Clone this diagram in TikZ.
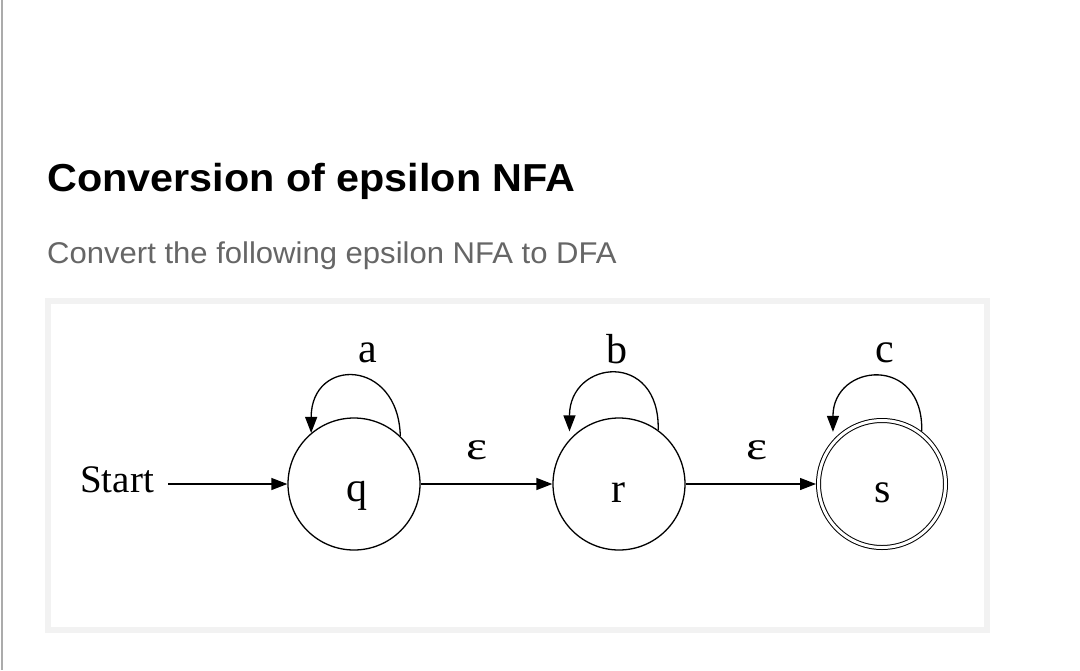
\documentclass[tikz,border=0pt]{standalone}
\usepackage{fontspec}
\usepackage{graphicx}
\newfontfamily\hdfont{Liberation Sans}
\newfontfamily\tnrfont{Liberation Serif}
\usetikzlibrary{arrows.meta,calc}
\definecolor{boxgray}{HTML}{F2F2F2}
\definecolor{subgray}{HTML}{666666}
\definecolor{edgegray}{HTML}{ABABAB}
\begin{document}
\begin{tikzpicture}[x=1pt,y=-1pt,
  state/.style={circle, draw=black, minimum size=132pt, inner sep=0pt, line width=1.3pt},
  accept/.style={circle, draw=black, minimum size=127pt, inner sep=0pt, double, double distance=3pt, line width=1pt, outer sep=2.5pt},
  lbl/.style={font=\tnrfont\fontsize{42}{42}\selectfont, anchor=base, inner sep=0pt},
  epslbl/.style={font=\tnrfont\fontsize{40}{40}\selectfont, anchor=center, inner sep=0pt},
  edge/.style={-{Triangle[length=16pt,width=12pt]}, line width=1.3pt, draw=black}]
\useasboundingbox[fill=white] (0,0) rectangle (1080,670);
\draw[edgegray, line width=2pt] (2,0) -- (2,670);
% headings
\node[anchor=base west, inner sep=0pt, font=\hdfont\bfseries\fontsize{39}{42}\selectfont] (title) at (47,191) {\scalebox{1.06}[1]{Conversion of epsilon NFA}};
\node[anchor=base west, inner sep=0pt, text=subgray, font=\hdfont\fontsize{30}{32}\selectfont] (sub) at (47,263) {\scalebox{1.035}[1]{Convert the following epsilon NFA to DFA}};
% frame
\draw[boxgray, line width=6pt, fill=white] (48,301) rectangle (987,630);
% states
\node[state] (q) at (354,484) {};
\node[state] (r) at (619,484) {};
\node[accept] (s) at (882,484) {};
\node[lbl] (ql) at (357,501) {q};
\node[lbl] (rl) at (618,502) {r};
\node[lbl] (sl) at (883,502) {s};
% start
\node[anchor=base west, inner sep=0pt, font=\tnrfont\fontsize{39}{39}\selectfont] (start) at (80,492) {Start};
\coordinate (st) at (168,484);
\draw[edge] (st) -- (q);
\draw[edge] (q) -- (r);
\draw[edge] (r) -- (s);
\node[epslbl] (e1) at (477,450) {\scalebox{1.25}[1]{ε}};
\node[epslbl] (e2) at (757,450) {\scalebox{1.25}[1]{ε}};
% loops
\draw[edge] (q.46) .. controls +(-2,-78) and +(0,-76) .. (q.130);
\draw[edge, shorten >=8pt] (r.54) .. controls +(2,-80) and +(0,-80) .. (r.138);
\draw[edge, shorten >=8pt] (s.53) .. controls +(2,-77) and +(0,-77) .. (s.138);
\node[lbl] (la) at (368,362) {a};
\node[lbl] (lb) at (617,363) {b};
\node[lbl] (lc) at (885,362) {c};
\end{tikzpicture}
\end{document}
